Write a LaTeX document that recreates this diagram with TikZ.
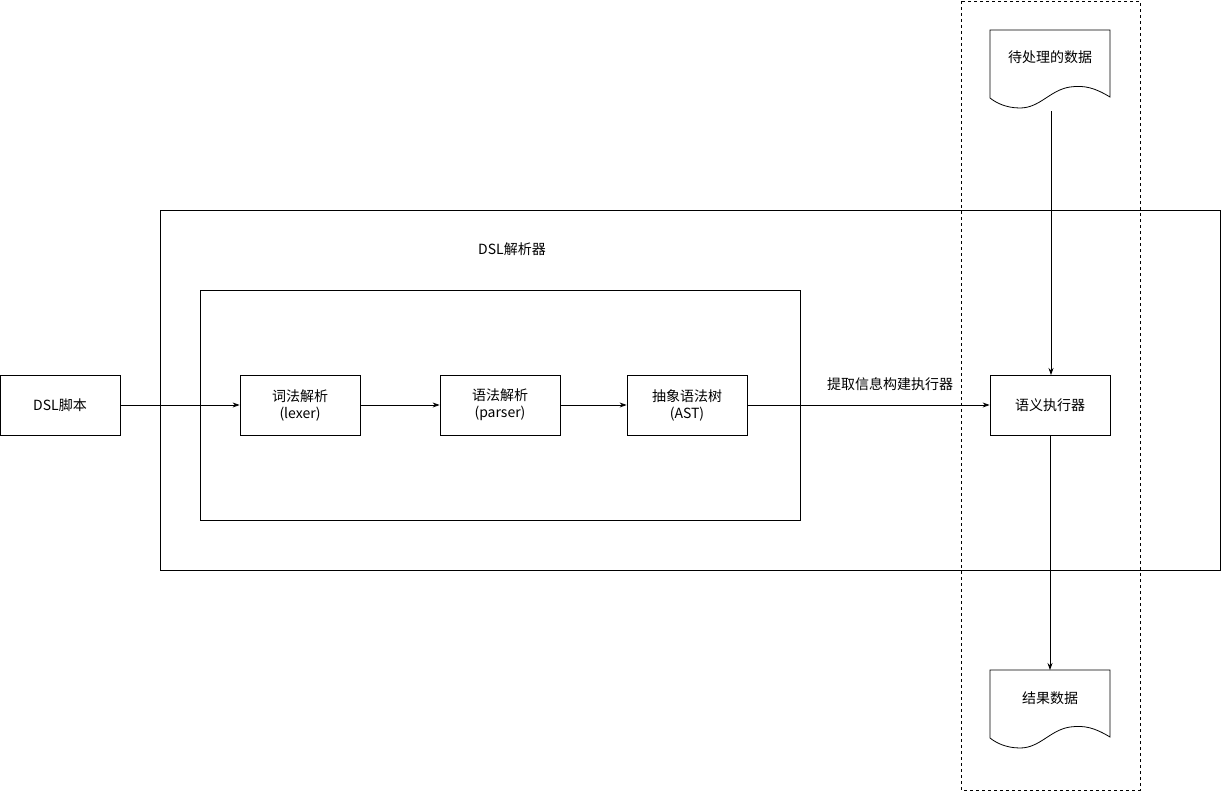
\documentclass[tikz,border=0pt]{standalone}
\usepackage{fontspec}
\setmainfont{Noto Sans CJK SC}
\usetikzlibrary{arrows.meta}
\begin{document}
\begin{tikzpicture}[x=1pt,y=-1pt,
  box/.style={draw,line width=0.8pt,minimum width=120pt,minimum height=60pt,align=center,font=\fontsize{14}{17}\selectfont,inner sep=0},
  arr/.style={-{Stealth[length=7pt,width=5pt]},line width=0.8pt},
  lbl/.style={font=\fontsize{14}{17}\selectfont}]
\useasboundingbox (0,0) rectangle (1221,792);
\fill[white] (0,0) rectangle (1221,792);
\draw[line width=0.8pt] (160,210) rectangle (1220,570);
\draw[line width=0.8pt] (200,290) rectangle (800,520);
\draw[line width=0.8pt,dashed] (961,1) rectangle (1140,790);
\node[lbl] (title) at (512,249) {DSL解析器};
\node[box] (dsl) at (60,405) {DSL脚本};
\node[box] (lex) at (300,405) {词法解析\\(lexer)};
\node[box] (par) at (500,405) {语法解析\\(parser)};
\node[box] (ast) at (687,405) {抽象语法树\\(AST)};
\node[box] (exe) at (1050,405) {语义执行器};
\node[lbl] (elbl) at (890,384) {提取信息构建执行器};
% documents
\draw[line width=0.8pt,fill=white] (990,30) -- (1110,30) -- (1110,97)
  .. controls (1095,88) and (1085,85) .. (1070,87)
  .. controls (1050,90) and (1040,108) .. (1020,108)
  .. controls (1005,108) and (995,102) .. (990,98) -- cycle;
\coordinate (dtop) at (1050,30);
\coordinate (dbot) at (1051,111);
\node[lbl] (dtxt) at (1050,57) {待处理的数据};
\draw[line width=0.8pt,fill=white] (990,670) -- (1110,670) -- (1110,737)
  .. controls (1095,728) and (1085,725) .. (1070,727)
  .. controls (1050,730) and (1040,748) .. (1020,748)
  .. controls (1005,748) and (995,742) .. (990,738) -- cycle;
\coordinate (rtop) at (1050,670);
\node[lbl] (rtxt) at (1050,698) {结果数据};
\draw[arr] (dsl) -- (lex);
\draw[arr] (lex) -- (par);
\draw[arr] (par) -- (ast);
\draw[arr] (ast) -- (exe);
\draw[arr] (dbot) -- (1051,375);
\draw[arr] (exe.south) -- (rtop);
\end{tikzpicture}
\end{document}
